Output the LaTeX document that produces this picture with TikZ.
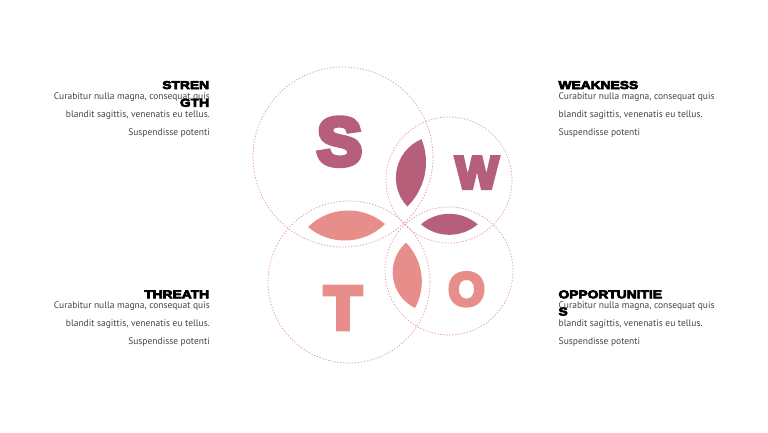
\documentclass[tikz,border=0pt]{standalone}
\usepackage{fontspec}
\setmainfont{Liberation Sans}
\newfontfamily\bodyfont{PT Sans}
\newfontfamily\heavyfont{Liberation Sans}[FakeStretch=1.0,BoldFeatures={FakeBold=8}]
\newfontfamily\headfont{Liberation Sans}[FakeStretch=1.21,BoldFeatures={FakeBold=6}]
\newcommand\sharpjoin{\special{pdf:code 0 j 2 M}}
\definecolor{plum}{HTML}{B65F7A}
\definecolor{salmon}{HTML}{E88E8A}
\definecolor{ringpink}{HTML}{E39AA5}
\definecolor{bodygray}{HTML}{454545}
\begin{document}
\begin{tikzpicture}[x=1pt,y=-1pt,
  ring/.style={draw=ringpink,line width=0.75pt,dash pattern=on 1.3pt off 1.7pt},
  petal/.style={preaction={draw=white,line width=5pt}},
  bigletter/.style={inner sep=0pt,anchor=base,font=\heavyfont\bfseries},
  headL/.style={inner sep=0pt,anchor=base east,font=\headfont\bfseries\fontsize{11.4}{14}\selectfont,text=black},
  headR/.style={inner sep=0pt,anchor=base west,font=\headfont\bfseries\fontsize{11.4}{14}\selectfont,text=black},
  bodyL/.style={inner sep=0pt,anchor=base east,font=\bodyfont\fontsize{9.5}{12}\selectfont,text=bodygray},
  bodyR/.style={inner sep=0pt,anchor=base west,font=\bodyfont\fontsize{9.5}{12}\selectfont,text=bodygray}]
\useasboundingbox[fill=white] (0,0) rectangle (768,432);

% dashed circles
\draw[ring] (343,157) circle[radius=90];
\draw[ring] (449,180) circle[radius=63];
\draw[ring] (349,282) circle[radius=81];
\draw[ring] (449,271) circle[radius=64];

% petals
\fill[plum,petal] (421.5,139.2) .. controls (394.6,150.5) and (387.3,185.3) .. (407.3,206.5)
  .. controls (425.25,189.07) and (430.89,162.39) .. (421.5,139.2) -- cycle;
\fill[salmon,petal] (308,227) .. controls (328.96,206.18) and (362.48,204.88) .. (385,224)
  .. controls (364.04,244.82) and (330.52,246.12) .. (308,227) -- cycle;
\fill[plum,petal] (421,224.3) .. controls (437.31,210.31) and (461.39,210.31) .. (477.7,224.3)
  .. controls (461.39,238.29) and (437.31,238.29) .. (421,224.3) -- cycle;
\fill[salmon,petal] (406,242.7) .. controls (384.90,261.47) and (389.61,295.64) .. (415,308)
  .. controls (426.73,286.63) and (423.07,260.10) .. (406,242.7) -- cycle;

% big letters
\node[bigletter,text=plum,font=\heavyfont\bfseries\fontsize{67}{68}\selectfont] (S) at (339.5,164.8) {\sharpjoin S};
\node[bigletter,text=plum,font=\heavyfont\bfseries\fontsize{45.5}{46}\selectfont] (W) at (477,188.3) {\sharpjoin W};
\node[bigletter,text=salmon,font=\heavyfont\bfseries\fontsize{61}{62}\selectfont] (T) at (343,329) {\sharpjoin T};
\node[bigletter,text=salmon,font=\heavyfont\bfseries\fontsize{46.5}{47}\selectfont] (O) at (466.5,305.3) {\sharpjoin O};

% body texts
\node[bodyL] (sb1) at (210,99.5) {Curabitur nulla magna, consequat quis};
\node[bodyL] (sb2) at (210,117.5) {blandit sagittis, venenatis eu tellus.};
\node[bodyL] (sb3) at (210,135) {Suspendisse potenti};
\node[bodyR] (wb1) at (558.5,99.5) {Curabitur nulla magna, consequat quis};
\node[bodyR] (wb2) at (558.5,117.5) {blandit sagittis, venenatis eu tellus.};
\node[bodyR] (wb3) at (558.5,135) {Suspendisse potenti};
\node[bodyL] (tb1) at (210,308.5) {Curabitur nulla magna, consequat quis};
\node[bodyL] (tb2) at (210,326.5) {blandit sagittis, venenatis eu tellus.};
\node[bodyL] (tb3) at (210,344.5) {Suspendisse potenti};
\node[bodyR] (ob1) at (558.5,308.5) {Curabitur nulla magna, consequat quis};
\node[bodyR] (ob2) at (558.5,326.5) {blandit sagittis, venenatis eu tellus.};
\node[bodyR] (ob3) at (558.5,344.5) {Suspendisse potenti};

% headings
\node[headL] (sh1) at (209.3,89) {\sharpjoin STREN};
\node[headL] (sh2) at (209.3,106.7) {\sharpjoin GTH};
\node[headR] (wh1) at (558.3,89) {\sharpjoin WEAKNESS};
\node[headL] (th1) at (209.3,298.3) {\sharpjoin THREATH};
\node[headR] (oh1) at (558.3,298.3) {\sharpjoin OPPORTUNITIE};
\node[headR] (oh2) at (558.3,315.5) {\sharpjoin S};
\end{tikzpicture}
\end{document}
